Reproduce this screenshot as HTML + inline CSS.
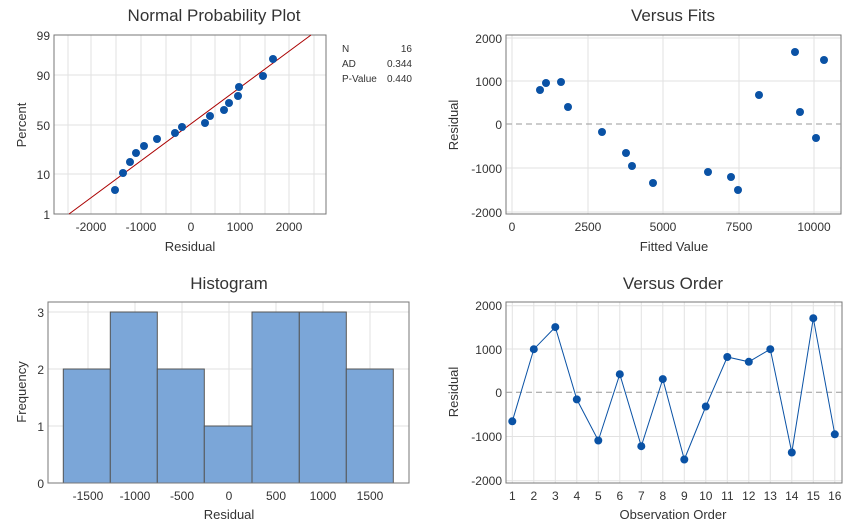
<!DOCTYPE html>
<html><head><style>body{margin:0;background:#fff}svg{display:block}text{font-family:"Liberation Sans",sans-serif;fill:#333}</style></head>
<body>
<svg width="851" height="525" viewBox="0 0 851 525" xmlns="http://www.w3.org/2000/svg">
<rect width="851" height="525" fill="#fff"/>
<!-- NPP -->
<g stroke="#e2e2e2" stroke-width="1">
<line x1="68" y1="35" x2="68" y2="214"/><line x1="91" y1="35" x2="91" y2="214"/><line x1="116" y1="35" x2="116" y2="214"/><line x1="141" y1="35" x2="141" y2="214"/><line x1="166" y1="35" x2="166" y2="214"/><line x1="191" y1="35" x2="191" y2="214"/><line x1="215" y1="35" x2="215" y2="214"/><line x1="240" y1="35" x2="240" y2="214"/><line x1="265" y1="35" x2="265" y2="214"/><line x1="289" y1="35" x2="289" y2="214"/><line x1="314" y1="35" x2="314" y2="214"/>
<line x1="54" y1="75" x2="326" y2="75"/><line x1="54" y1="125" x2="326" y2="125"/><line x1="54" y1="174" x2="326" y2="174"/>
</g>
<rect x="54" y="35" width="272" height="179" fill="none" stroke="#777"/>
<line x1="69" y1="214" x2="311" y2="35" stroke="#a00" stroke-width="1"/>
<g fill="#0a52a5">
<circle cx="115" cy="190" r="4"/><circle cx="123" cy="173" r="4"/><circle cx="130" cy="162" r="4"/><circle cx="136" cy="153" r="4"/><circle cx="144" cy="146" r="4"/><circle cx="157" cy="139" r="4"/><circle cx="175" cy="133" r="4"/><circle cx="182" cy="127" r="4"/><circle cx="205" cy="123" r="4"/><circle cx="210" cy="116" r="4"/><circle cx="224" cy="110" r="4"/><circle cx="229" cy="103" r="4"/><circle cx="238" cy="96" r="4"/><circle cx="239" cy="87" r="4"/><circle cx="263" cy="76" r="4"/><circle cx="273" cy="59" r="4"/>
</g>
<text x="214" y="21" font-size="17" text-anchor="middle">Normal Probability Plot</text>
<g font-size="12" text-anchor="end"><text x="50" y="40">99</text><text x="50" y="80">90</text><text x="50" y="130">50</text><text x="50" y="179">10</text><text x="50" y="219">1</text></g>
<g font-size="12" text-anchor="middle"><text x="91" y="231">-2000</text><text x="141" y="231">-1000</text><text x="191" y="231">0</text><text x="240" y="231">1000</text><text x="289" y="231">2000</text></g>
<text x="190" y="251" font-size="13" text-anchor="middle">Residual</text>
<text transform="translate(26,125) rotate(-90)" font-size="13" text-anchor="middle">Percent</text>
<g font-size="10"><text x="342" y="52">N</text><text x="342" y="67">AD</text><text x="342" y="82">P-Value</text>
<text x="412" y="52" text-anchor="end">16</text><text x="412" y="67" text-anchor="end">0.344</text><text x="412" y="82" text-anchor="end">0.440</text></g>

<!-- Versus Fits -->
<g stroke="#e2e2e2">
<line x1="512" y1="35" x2="512" y2="214"/><line x1="588" y1="35" x2="588" y2="214"/><line x1="663" y1="35" x2="663" y2="214"/><line x1="739" y1="35" x2="739" y2="214"/><line x1="814" y1="35" x2="814" y2="214"/>
<line x1="506" y1="38" x2="841" y2="38"/><line x1="506" y1="81" x2="841" y2="81"/><line x1="506" y1="168" x2="841" y2="168"/><line x1="506" y1="212" x2="841" y2="212"/>
</g>
<rect x="506" y="35" width="335" height="179" fill="none" stroke="#777"/>
<line x1="506" y1="124" x2="841" y2="124" stroke="#999" stroke-dasharray="6,4"/>
<g fill="#0a52a5">
<circle cx="540" cy="90" r="4"/><circle cx="546" cy="83" r="4"/><circle cx="561" cy="82" r="4"/><circle cx="568" cy="107" r="4"/><circle cx="602" cy="132" r="4"/><circle cx="626" cy="153" r="4"/><circle cx="632" cy="166" r="4"/><circle cx="653" cy="183" r="4"/><circle cx="708" cy="172" r="4"/><circle cx="731" cy="177" r="4"/><circle cx="738" cy="190" r="4"/><circle cx="759" cy="95" r="4"/><circle cx="795" cy="52" r="4"/><circle cx="800" cy="112" r="4"/><circle cx="816" cy="138" r="4"/><circle cx="824" cy="60" r="4"/>
</g>
<text x="673" y="21" font-size="17" text-anchor="middle">Versus Fits</text>
<g font-size="12" text-anchor="end"><text x="502" y="43">2000</text><text x="502" y="86">1000</text><text x="502" y="129">0</text><text x="502" y="173">-1000</text><text x="502" y="217">-2000</text></g>
<g font-size="12" text-anchor="middle"><text x="512" y="231">0</text><text x="588" y="231">2500</text><text x="663" y="231">5000</text><text x="739" y="231">7500</text><text x="814" y="231">10000</text></g>
<text x="674" y="251" font-size="13" text-anchor="middle">Fitted Value</text>
<text transform="translate(458,125) rotate(-90)" font-size="13" text-anchor="middle">Residual</text>

<!-- Histogram -->
<g stroke="#e2e2e2">
<line x1="88" y1="302" x2="88" y2="483"/><line x1="135" y1="302" x2="135" y2="483"/><line x1="182" y1="302" x2="182" y2="483"/><line x1="229" y1="302" x2="229" y2="483"/><line x1="276" y1="302" x2="276" y2="483"/><line x1="323" y1="302" x2="323" y2="483"/><line x1="370" y1="302" x2="370" y2="483"/>
<line x1="48" y1="312" x2="409" y2="312"/><line x1="48" y1="369" x2="409" y2="369"/><line x1="48" y1="426" x2="409" y2="426"/>
</g>
<g fill="#7ba6d8" stroke="#555" stroke-width="1">
<rect x="63.3" y="369" width="47" height="114"/><rect x="110.3" y="312" width="47" height="171"/><rect x="157.3" y="369" width="47" height="114"/><rect x="204.3" y="426" width="47.7" height="57"/><rect x="252" y="312" width="47.3" height="171"/><rect x="299.3" y="312" width="47" height="171"/><rect x="346.3" y="369" width="47" height="114"/>
</g>
<rect x="48" y="302" width="361" height="181" fill="none" stroke="#777"/>
<text x="229" y="289" font-size="17" text-anchor="middle">Histogram</text>
<g font-size="12" text-anchor="end"><text x="44" y="317">3</text><text x="44" y="374">2</text><text x="44" y="431">1</text><text x="44" y="488">0</text></g>
<g font-size="12" text-anchor="middle"><text x="88" y="500">-1500</text><text x="135" y="500">-1000</text><text x="182" y="500">-500</text><text x="229" y="500">0</text><text x="276" y="500">500</text><text x="323" y="500">1000</text><text x="370" y="500">1500</text></g>
<text x="229" y="519" font-size="13" text-anchor="middle">Residual</text>
<text transform="translate(26,392) rotate(-90)" font-size="13" text-anchor="middle">Frequency</text>

<!-- Versus Order -->
<g stroke="#e2e2e2">
<line x1="512.3" y1="302" x2="512.3" y2="483"/><line x1="533.8" y1="302" x2="533.8" y2="483"/><line x1="555.3" y1="302" x2="555.3" y2="483"/><line x1="576.8" y1="302" x2="576.8" y2="483"/><line x1="598.3" y1="302" x2="598.3" y2="483"/><line x1="619.8" y1="302" x2="619.8" y2="483"/><line x1="641.3" y1="302" x2="641.3" y2="483"/><line x1="662.8" y1="302" x2="662.8" y2="483"/><line x1="684.3" y1="302" x2="684.3" y2="483"/><line x1="705.8" y1="302" x2="705.8" y2="483"/><line x1="727.3" y1="302" x2="727.3" y2="483"/><line x1="748.8" y1="302" x2="748.8" y2="483"/><line x1="770.3" y1="302" x2="770.3" y2="483"/><line x1="791.8" y1="302" x2="791.8" y2="483"/><line x1="813.3" y1="302" x2="813.3" y2="483"/><line x1="834.8" y1="302" x2="834.8" y2="483"/>
<line x1="506" y1="305.7" x2="842" y2="305.7"/><line x1="506" y1="349" x2="842" y2="349"/><line x1="506" y1="436.5" x2="842" y2="436.5"/><line x1="506" y1="480.7" x2="842" y2="480.7"/>
</g>
<rect x="506" y="302" width="336" height="181" fill="none" stroke="#777"/>
<line x1="506" y1="392.3" x2="842" y2="392.3" stroke="#999" stroke-dasharray="6,4"/>
<polyline fill="none" stroke="#0a52a5" stroke-width="1" points="512.3,421.3 533.8,349.2 555.3,327.1 576.8,399.4 598.3,440.5 619.8,374.2 641.3,446.2 662.8,379.1 684.3,459.5 705.8,406.5 727.3,357 748.8,361.8 770.3,349.2 791.8,452.5 813.3,318.2 834.8,434.3"/>
<g fill="#0a52a5">
<circle cx="512.3" cy="421.3" r="4"/><circle cx="533.8" cy="349.2" r="4"/><circle cx="555.3" cy="327.1" r="4"/><circle cx="576.8" cy="399.4" r="4"/><circle cx="598.3" cy="440.5" r="4"/><circle cx="619.8" cy="374.2" r="4"/><circle cx="641.3" cy="446.2" r="4"/><circle cx="662.8" cy="379.1" r="4"/><circle cx="684.3" cy="459.5" r="4"/><circle cx="705.8" cy="406.5" r="4"/><circle cx="727.3" cy="357" r="4"/><circle cx="748.8" cy="361.8" r="4"/><circle cx="770.3" cy="349.2" r="4"/><circle cx="791.8" cy="452.5" r="4"/><circle cx="813.3" cy="318.2" r="4"/><circle cx="834.8" cy="434.3" r="4"/>
</g>
<text x="673" y="289" font-size="17" text-anchor="middle">Versus Order</text>
<g font-size="12" text-anchor="end"><text x="502" y="310">2000</text><text x="502" y="354">1000</text><text x="502" y="397">0</text><text x="502" y="441">-1000</text><text x="502" y="485">-2000</text></g>
<g font-size="12" text-anchor="middle"><text x="512.3" y="500">1</text><text x="533.8" y="500">2</text><text x="555.3" y="500">3</text><text x="576.8" y="500">4</text><text x="598.3" y="500">5</text><text x="619.8" y="500">6</text><text x="641.3" y="500">7</text><text x="662.8" y="500">8</text><text x="684.3" y="500">9</text><text x="705.8" y="500">10</text><text x="727.3" y="500">11</text><text x="748.8" y="500">12</text><text x="770.3" y="500">13</text><text x="791.8" y="500">14</text><text x="813.3" y="500">15</text><text x="834.8" y="500">16</text></g>
<text x="673" y="519" font-size="13" text-anchor="middle">Observation Order</text>
<text transform="translate(458,392) rotate(-90)" font-size="13" text-anchor="middle">Residual</text>
</svg>
</body></html>
